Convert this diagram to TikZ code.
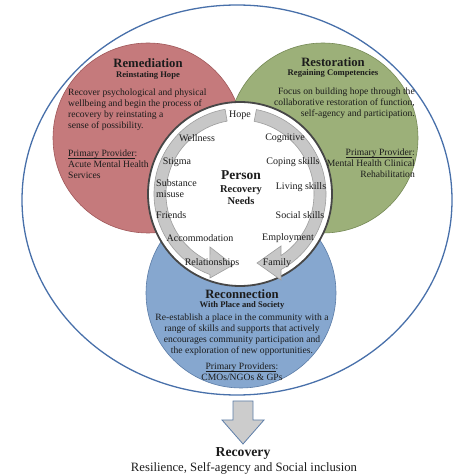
\documentclass[tikz,border=0pt]{standalone}
\usepackage{fontspec}
\setmainfont{Liberation Serif}
\definecolor{remred}{RGB}{197,122,124}
\definecolor{remredline}{RGB}{160,88,90}
\definecolor{resgreen}{RGB}{156,176,121}
\definecolor{resgreenline}{RGB}{118,138,86}
\definecolor{recblue}{RGB}{134,167,207}
\definecolor{recblueline}{RGB}{92,125,168}
\definecolor{outerblue}{RGB}{72,112,170}
\definecolor{inktext}{RGB}{28,28,28}
\newcommand\provider[1]{\setbox0\hbox{#1}\rlap{\rule[-1.6pt]{\wd0}{0.45pt}}\box0}
\begin{document}
\begin{tikzpicture}[x=1pt,y=1pt,
    txt/.style={inner sep=0pt,text=inktext,font=\fontsize{9.6}{11}\selectfont},
    need/.style={inner sep=0pt,text=inktext,font=\fontsize{10}{11}\selectfont},
    heading/.style={inner sep=0pt,text=inktext,font=\bfseries\fontsize{12.7}{14}\selectfont},
    subheading/.style={inner sep=0pt,text=inktext,font=\bfseries\fontsize{8.6}{9}\selectfont},
    band/.style={fill=black!22,draw=black!38,line width=0.6pt}]
    \useasboundingbox (0,0) rectangle (474,474);

    % Outer boundary
    \draw[outerblue,line width=1.3pt,fill=white] (237,274) ellipse [x radius=215pt,y radius=195pt];

    % Three phases
    \draw[remredline,fill=remred,line width=0.6pt] (148,336) circle [radius=95pt];
    \draw[resgreenline,fill=resgreen,line width=0.6pt] (323,336) circle [radius=95pt];
    \draw[recblueline,fill=recblue,line width=0.6pt] (241,181) circle [radius=95pt];

    % Person in the middle
    \draw[black!72,fill=white,line width=1.8pt] (240,280) circle [radius=92pt];

    % Circular arrows
    \path[band] (240,280) ++(100:86pt) arc[start angle=100,end angle=249.6,radius=86pt]
        -- (210,196) -- (233,209) -- (210,227)
        -- ([shift={(246:74pt)}]240,280) arc[start angle=246,end angle=100,radius=74pt] -- cycle;
    \path[band] (240,280) ++(79:86pt) arc[start angle=79,end angle=-61.5,radius=86pt]
        -- (281,194) -- (257,211) -- (281,228)
        -- ([shift={(-56.4:74pt)}]240,280) arc[start angle=-56.4,end angle=79,radius=74pt] -- cycle;

    % Remediation
    \node[heading] (remtitle) at (148,411) {Remediation};
    \node[subheading] (remsub) at (148,399) {Reinstating Hope};
    \node[txt,align=left,anchor=north west] (remtext) at (68,385)
        {Recover psychological and physical\\wellbeing and begin the process of\\recovery by reinstating a\\sense of possibility.};
    \node[txt,align=left,anchor=north west] (remprov) at (68,324)
        {\provider{Primary Provider}:\\Acute Mental Health\\Services};

    % Restoration
    \node[heading] (restitle) at (333,412) {Restoration};
    \node[subheading] (ressub) at (333,401) {Regaining Competencies};
    \node[txt,align=right,anchor=north east] (restext) at (415,386)
        {Focus on building hope through the\\collaborative restoration of function,\\self-agency and participation.};
    \node[txt,align=right,anchor=north east] (resprov) at (415,325)
        {\provider{Primary Provider}:\\Mental Health Clinical\\Rehabilitation};

    % Reconnection
    \node[heading] (rectitle) at (242,180) {Reconnection};
    \node[subheading] (recsub) at (242,169) {With Place and Society};
    \node[txt,align=center,anchor=north] (rectext) at (242,160)
        {Re-establish a place in the community with a\\range of skills and supports that actively\\encourages community participation and\\the exploration of new opportunities.};
    \node[txt,align=center,anchor=north] (recprov) at (242,111)
        {\provider{Primary Providers}:\\CMOs/NGOs \& GPs};

    % Recovery needs
    \node[inner sep=0pt,text=inktext,align=center,font=\bfseries\fontsize{10.5}{12.5}\selectfont] (person) at (241,286)
        {{\fontsize{13.5}{13.5}\selectfont Person}\\Recovery\\Needs};
    \node[need] (hope) at (240,359) {Hope};
    \node[need] (wellness) at (197,336) {Wellness};
    \node[need] (cognitive) at (285,336) {Cognitive};
    \node[need] (stigma) at (177,312) {Stigma};
    \node[need] (coping) at (293,312) {Coping skills};
    \node[need,align=left,anchor=west] (substance) at (156,285.5) {Substance\\misuse};
    \node[need] (living) at (301,287) {Living skills};
    \node[need,anchor=west] (friends) at (156,259) {Friends};
    \node[need] (social) at (300,259) {Social skills};
    \node[need] (accommodation) at (200,236) {Accommodation};
    \node[need] (employment) at (288,236) {Employment};
    \node[need] (relationships) at (212,211) {Relationships};
    \node[need] (family) at (277,211) {Family};

    % Outcome
    \path[fill=black!20,draw=recblueline,line width=0.8pt] (233,73) -- (253,73) -- (253,54) -- (264,54)
        -- (243,30) -- (222,54) -- (233,54) -- cycle;
    \node[heading,font=\bfseries\fontsize{13.7}{15}\selectfont] (recovery) at (243,21) {Recovery};
    \node[inner sep=0pt,text=inktext,font=\fontsize{12.7}{14}\selectfont] (outcome) at (244,6)
        {Resilience, Self-agency and Social inclusion};
\end{tikzpicture}
\end{document}
